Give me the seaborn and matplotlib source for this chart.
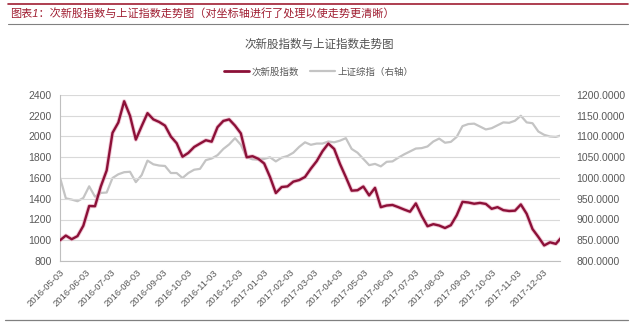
import matplotlib
matplotlib.use("Agg")
import matplotlib.pyplot as plt
import matplotlib.patheffects as pe
from matplotlib.lines import Line2D
import seaborn as sns
import pandas as pd

# ---- data (weekly readings from the reference) ----
start_date = "2016-05-03"
n_weeks = 87
cixin = [1000, 1045, 1010, 1040, 1140, 1330, 1328, 1519, 1673, 2035,
         2135, 2340, 2200, 1970, 2100, 2225, 2165, 2140, 2105, 2000,
         1935, 1805, 1842, 1899, 1932, 1964, 1950, 2090, 2150, 2165,
         2105, 2030, 1800, 1810, 1785, 1740, 1610, 1455, 1513, 1519,
         1565, 1580, 1610, 1690, 1762, 1858, 1932, 1880, 1735, 1609,
         1478, 1482, 1518, 1432, 1505, 1319, 1335, 1340, 1319, 1296,
         1275, 1355, 1235, 1135, 1155, 1142, 1118, 1145, 1240, 1370,
         1364, 1352, 1360, 1350, 1303, 1319, 1290, 1282, 1285, 1345,
         1255, 1108, 1032, 950, 980, 965, 1030]
shzs = [1001, 951, 948, 944, 952, 980, 955, 964, 965, 1000,
        1009, 1014, 1015, 990, 1007, 1042, 1033, 1030, 1029, 1012,
        1012, 1000, 1012, 1020, 1022, 1043, 1047, 1055, 1070, 1081,
        1096, 1080, 1050, 1045, 1044, 1046, 1050, 1040, 1049, 1053,
        1061, 1075, 1086, 1080, 1083, 1083, 1088, 1086, 1090, 1096,
        1070, 1061, 1046, 1031, 1034, 1028, 1039, 1040, 1049, 1057,
        1064, 1071, 1072, 1076, 1088, 1095, 1085, 1087, 1099, 1125,
        1130, 1131, 1124, 1117, 1120, 1127, 1134, 1133, 1138, 1150,
        1134, 1132, 1112, 1104, 1100, 1099, 1103]
tick_dates = ["2016-05-03", "2016-06-03", "2016-07-03", "2016-08-03", "2016-09-03",
              "2016-10-03", "2016-11-03", "2016-12-03", "2017-01-03", "2017-02-03",
              "2017-03-03", "2017-04-03", "2017-05-03", "2017-06-03", "2017-07-03",
              "2017-08-03", "2017-09-03", "2017-10-03", "2017-11-03", "2017-12-03"]
left_ticks = [800, 1000, 1200, 1400, 1600, 1800, 2000, 2200, 2400]
right_ticks = [800, 850, 900, 950, 1000, 1050, 1100, 1150, 1200]
name_red = "次新股指数"
name_gray = "上证综指（右轴）"
chart_title = "次新股指数与上证指数走势图"
header = "图表1：次新股指数与上证指数走势图（对坐标轴进行了处理以使走势更清晰）"

dates = pd.date_range(start_date, periods=n_weeks, freq="7D")
df = pd.DataFrame({"date": dates, "cixin": cixin, "shzs": shzs})

sns.set_theme(style="white")
plt.rcParams["font.family"] = ["Liberation Sans", "Noto Sans CJK SC", "DejaVu Sans"]

RED = "#8C1038"
GRAY = "#C4C4C4"
TXT = "#595959"

fig = plt.figure(figsize=(6.38, 3.25), dpi=100)
ax = fig.add_axes([60 / 638, 1 - 261 / 325, 500 / 638, 166 / 325])
ax2 = ax.twinx()

sns.lineplot(data=df, x="date", y="shzs", ax=ax2, color=GRAY, linewidth=1.6, zorder=2)
sns.lineplot(data=df, x="date", y="cixin", ax=ax, color=RED, linewidth=1.7, zorder=3)
for ln in ax.get_lines():
    ln.set_path_effects([pe.Stroke(linewidth=3.0, foreground="#E59AB4", alpha=0.55), pe.Normal()])
ax.set_zorder(ax2.get_zorder() + 1)
ax.patch.set_visible(False)

ax.set_xlim(pd.Timestamp("2016-05-03"), pd.Timestamp("2017-12-24"))
ax.set_ylim(800, 2400)
ax2.set_ylim(800, 1200)
ax.set_yticks(left_ticks)
ax2.set_yticks(right_ticks)
ax.set_yticklabels([str(v) for v in left_ticks])
ax2.set_yticklabels([f"{v:.4f}" for v in right_ticks])

ax.set_xticks(pd.to_datetime(tick_dates))
ax.set_xticklabels(tick_dates, rotation=45, ha="right", rotation_mode="anchor")

for a in (ax, ax2):
    a.set_xlabel("")
    a.set_ylabel("")
    for s in a.spines.values():
        s.set_visible(False)

ax.spines["left"].set_visible(True)
ax.spines["bottom"].set_visible(True)
ax.spines["left"].set_color("#BFBFBF")
ax.spines["bottom"].set_color("#BFBFBF")
ax.spines["left"].set_linewidth(0.8)
ax.spines["bottom"].set_linewidth(0.8)

ax.yaxis.grid(True, color="#D9D9D9", linewidth=0.8)
ax.set_axisbelow(True)
ax.tick_params(axis="y", labelsize=7.5, colors=TXT, length=0, pad=6)
ax.tick_params(axis="x", labelsize=6.8, colors=TXT, length=3, width=0.8,
               color="#BFBFBF", direction="out", pad=2)
ax2.tick_params(axis="y", labelsize=7.5, colors=TXT, length=0, pad=12)

handles = [Line2D([], [], color=RED, linewidth=2.0),
           Line2D([], [], color=GRAY, linewidth=1.6)]
fig.legend(handles, [name_red, name_gray], loc="center", bbox_to_anchor=(0.5, 1 - 72 / 325),
           ncol=2, frameon=False, fontsize=6.8, handlelength=2.6, columnspacing=1.2,
           handletextpad=0.3, labelcolor=TXT)

fig.text(0.5, 1 - 45 / 325, chart_title, ha="center", va="center", fontsize=8.3, color="#505050")
fig.text(10 / 638, 1 - 14 / 325, header, ha="left", va="center", fontsize=8,
         color="#A01E32", style="italic")

fig.add_artist(Line2D([8 / 638, 628 / 638], [1 - 4 / 325, 1 - 4 / 325], color="#A01E32", linewidth=1.2))
fig.add_artist(Line2D([8 / 638, 628 / 638], [1 - 24 / 325, 1 - 24 / 325], color="#808080", linewidth=0.8))
fig.add_artist(Line2D([5 / 638, 628 / 638], [1 - 320 / 325, 1 - 320 / 325], color="#808080", linewidth=0.9))

fig.savefig("out.png", dpi=100)
